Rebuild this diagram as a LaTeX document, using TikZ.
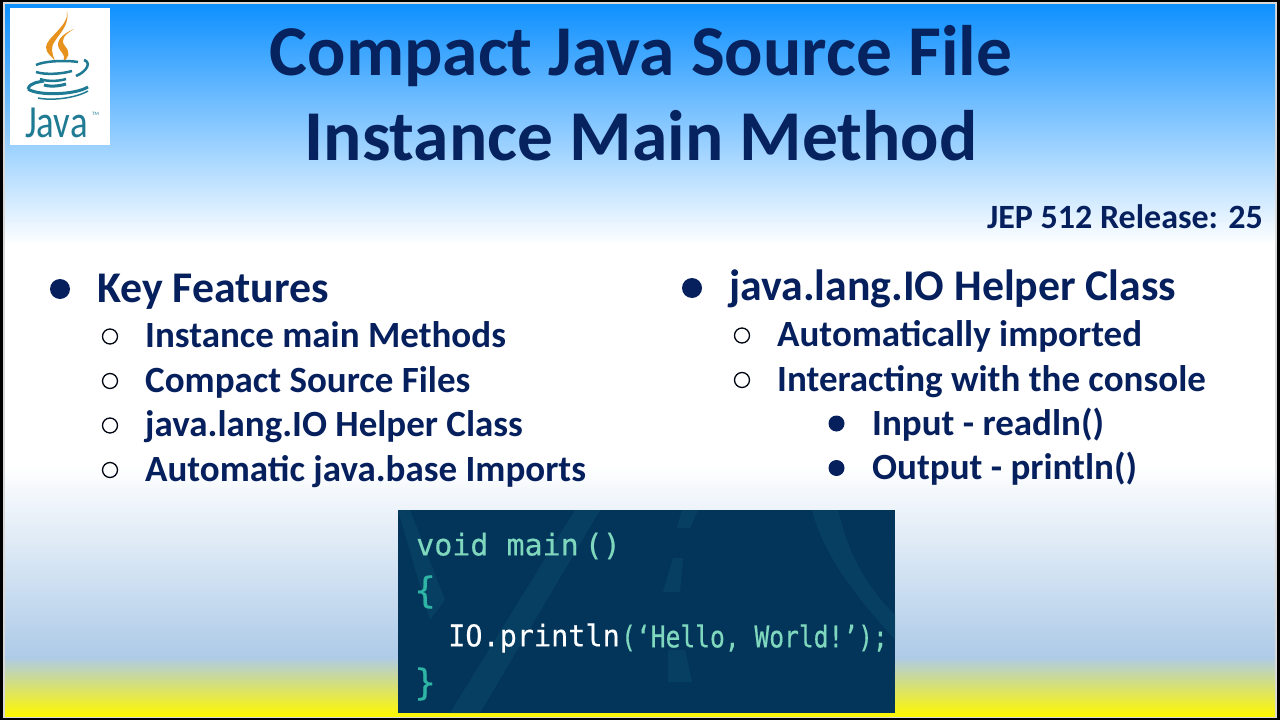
\documentclass[tikz,border=0pt]{standalone}
\usepackage{fontspec}
\setmainfont{Carlito}
\newfontfamily\logofont[FakeStretch=0.8]{Carlito}
\newfontfamily\codefont[FakeBold=0.4]{DejaVu Sans Mono}
\newfontfamily\codefontnarrow[FakeBold=0.4,FakeStretch=0.82]{DejaVu Sans Mono}
\newfontfamily\codefontmid[FakeBold=0.4,FakeStretch=0.95]{DejaVu Sans Mono}
\usetikzlibrary{positioning}
\definecolor{titleblue}{HTML}{07235F}
\definecolor{bodyblue}{HTML}{06205E}
\definecolor{skyblue}{HTML}{0E90FF}
\definecolor{paleblue}{HTML}{AECBE8}
\definecolor{sunyellow}{HTML}{FFF700}
\definecolor{codebg}{HTML}{03355A}
\definecolor{codestreak}{HTML}{0F4F70}
\definecolor{codemint}{HTML}{7FD8BE}
\definecolor{codeteal}{HTML}{2FB5A5}
\definecolor{javateal}{HTML}{1F7A94}
\definecolor{javaorange}{HTML}{E8921E}
\tikzset{
    titletext/.style={text=titleblue, font=\fontsize{71.5}{71.5}\selectfont\bfseries, anchor=base, inner sep=0pt},
    headtext/.style={text=bodyblue, font=\fontsize{43.8}{43.8}\selectfont\bfseries, anchor=base west, inner sep=0pt},
    itemtext/.style={text=bodyblue, font=\fontsize{37}{37}\selectfont\bfseries, anchor=base west, inner sep=0pt},
    codetext/.style={font=\fontsize{30}{30}\selectfont\codefont, anchor=west, inner sep=0pt},
    dotbig/.style={circle, fill=bodyblue, minimum size=20pt, inner sep=0pt},
    dotsmall/.style={circle, fill=bodyblue, minimum size=16pt, inner sep=0pt},
    ringsmall/.style={circle, draw=black!80!bodyblue, line width=1.3pt, minimum size=15pt, inner sep=0pt}
}
\begin{document}
\begin{tikzpicture}[x=1pt, y=-1pt]
    \useasboundingbox (0,0) rectangle (1280,720);
    % background
    \fill[black] (0,0) rectangle (1280,720);
    \fill[white!85!black] (3,2) rectangle (1277,718);
    \shade[top color=skyblue, bottom color=white] (5,4) rectangle (1275,245);
    \fill[white] (5,245) rectangle (1275,465);
    \shade[top color=white, bottom color=paleblue] (5,465) rectangle (1275,657);
    \shade[top color=paleblue, bottom color=sunyellow] (5,657) rectangle (1275,716);

    % logo
    \fill[white] (10,8) rectangle (110,145);
    \fill[javaorange] (67,11) .. controls (70,25) and (46,38) .. (46,47) .. controls (46,54) and (52,56) .. (55,61) .. controls (52,53) and (50,48) .. (55,41) .. controls (60,33) and (70,24) .. (67,11);
    \fill[javaorange] (74,29) .. controls (62,34) and (54,42) .. (60,50) .. controls (64,55) and (66,58) .. (62,62) .. controls (70,58) and (70,52) .. (65,46) .. controls (60,40) and (64,35) .. (74,29);
    \draw[javateal, line width=2.5pt] (36,65) .. controls (44,61) and (66,60) .. (78,62);
    \draw[javateal, line width=2.5pt] (84,60) .. controls (91,62) and (88,71) .. (76,76);
    \draw[javateal, line width=2.5pt] (36,72) .. controls (45,75) and (62,74) .. (72,71);
    \draw[javateal, line width=2.5pt] (40,79) .. controls (48,82) and (60,81) .. (66,79);
    \draw[javateal, line width=3pt] (28,89) .. controls (30,82) and (40,82) .. (44,81);
    \draw[javateal, line width=3pt] (44,85) .. controls (50,87) and (60,86) .. (66,84);
    \draw[javateal, line width=3pt] (28,89) .. controls (38,96) and (75,95) .. (88,87);
    \draw[javateal, line width=1.5pt] (38,98) .. controls (52,101) and (76,98) .. (88,91);
    \node[inner sep=0pt, anchor=west, text=javateal, font=\fontsize{46}{46}\selectfont\logofont] (javaword) at (25,123) {Java};
    \node[inner sep=0pt, anchor=west, text=javateal, font=\fontsize{5}{5}\selectfont] (javatm) at (92,114) {TM};

    % title
    \node[titletext] (titleone) at (641,75) {Compact Java Source File};
    \node[titletext] (titletwo) at (641,160) {Instance Main Method};
    \node[text=bodyblue, font=\fontsize{34}{34}\selectfont\bfseries, anchor=base east, inner sep=0pt] (jepline) at (1263,228) {JEP 512 Release: 25};

    % left list
    \node[dotbig] (leftdot) at (60,289) {};
    \node[headtext] (lefthead) at (97,302) {Key Features};
    \foreach \itemname/\itemy/\itemlabel in {lefta/347.5/Instance main Methods, leftb/392/Compact Source Files, leftc/436.5/java.lang.IO Helper Class, leftd/481/Automatic java.base Imports} {
        \node[ringsmall] (\itemname ring) at (110,\itemy-11) {};
        \node[itemtext] (\itemname) at (145,\itemy) {\itemlabel};
    }

    % right list
    \node[dotbig] (rightdot) at (692,288) {};
    \node[headtext] (righthead) at (729,300.5) {java.lang.IO Helper Class};
    \foreach \itemname/\itemy/\itemlabel in {righta/346.5/Automatically imported, rightb/391/Interacting with the console} {
        \node[ringsmall] (\itemname ring) at (742,\itemy-11) {};
        \node[itemtext] (\itemname) at (777,\itemy) {\itemlabel};
    }
    \foreach \itemname/\itemy/\itemlabel in {rightc/435/Input - readln(), rightd/479.5/Output - println()} {
        \node[dotsmall] (\itemname dot) at (836.5,\itemy-11.5) {};
        \node[itemtext] (\itemname) at (872,\itemy) {\itemlabel};
    }

    % code panel
    \fill[codebg] (398,510) rectangle (895,713);
    \fill[codestreak, opacity=0.4] (398,510) -- (410,510) -- (445,600) -- (430,620) -- cycle;
    \fill[codestreak, opacity=0.4] (575,510) -- (600,510) -- (480,713) -- (450,713) -- cycle;
    \fill[codestreak, opacity=0.4] (682,510) -- (698,510) -- (690,528) -- (677,528) -- cycle;
    \fill[codestreak, opacity=0.4] (673,558) -- (683,558) -- (680,592) -- (663,592) -- cycle;
    \fill[codestreak, opacity=0.4] (668,650) -- (685,650) -- (692,682) -- (668,682) -- cycle;
    \fill[codestreak, opacity=0.4] (812,510) -- (838,510) .. controls (850,560) and (870,590) .. (895,615) -- (895,640) .. controls (860,600) and (825,560) .. (812,510);
    \node[codetext, text=codemint] (codeone) at (416,546) {void main\hspace{6pt}()};
    \node[codetext, text=codeteal, font=\fontsize{36}{36}\selectfont\codefont] (codetwo) at (414,592) {\{};
    \node[codetext, text=white, font=\fontsize{30}{30}\selectfont\codefontmid] (codethreea) at (448,638) {IO.println};
    \node[codetext, text=codemint, font=\fontsize{30}{30}\selectfont\codefontnarrow, right=1pt of codethreea] (codethreeb) {(‘Hello, World!’);};
    \node[codetext, text=codeteal, font=\fontsize{36}{36}\selectfont\codefont] (codefour) at (414,684) {\}};
\end{tikzpicture}
\end{document}
